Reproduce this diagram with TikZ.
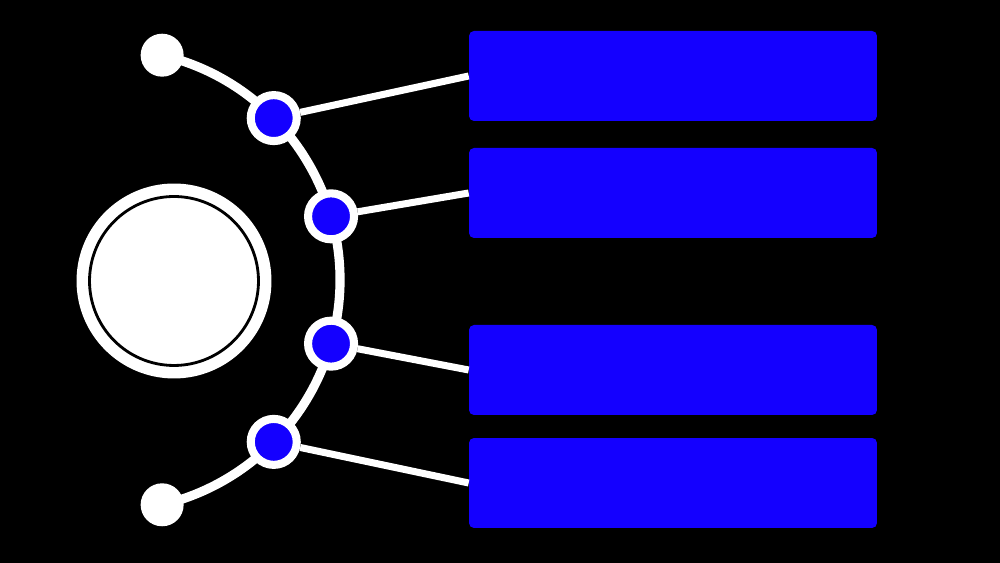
\documentclass[tikz,border=0pt]{standalone}
\usetikzlibrary{calc}
\definecolor{boxblue}{RGB}{20,0,255}
\begin{document}
\begin{tikzpicture}[x=0.02cm,y=0.02cm,
  dot/.style={circle,fill=boxblue,draw=white,line width=4.6pt,minimum size=0.92cm,inner sep=0pt},
  tip/.style={circle,fill=white,minimum size=0.86cm,inner sep=0pt},
  infobox/.style={rectangle,rounded corners=2.8pt,fill=boxblue,minimum width=8.16cm,minimum height=1.8cm,inner sep=0pt},
  link/.style={white,line width=4pt}]
\fill[black] (0,0) rectangle (1000,563);
\useasboundingbox (0,0) rectangle (1000,563);
\coordinate (k) at (109,283);
% arc
\draw[white,line width=5.2pt] ($(k)+(76.7:231)$) arc[start angle=76.7,end angle=-76.7,radius=231];
% end points
\node[tip] (e1) at ($(k)+(76.7:231)$) {};
\node[tip] (e2) at ($(k)+(-76.7:231)$) {};
% big circle
\node[circle,fill=white,minimum size=3.9cm,inner sep=0pt] (big) at (174,282) {};
\node[circle,draw=black,line width=1.6pt,minimum size=3.38cm,inner sep=0pt] (bigin) at (big.center) {};
% boxes
\node[infobox] (b1) at (673,487) {};
\node[infobox] (b2) at (673,370) {};
\node[infobox] (b3) at (673,193) {};
\node[infobox] (b4) at (673,80) {};
% dots
\node[dot] (d1) at ($(k)+(44.5:231)$) {};
\node[dot] (d2) at ($(k)+(16:231)$) {};
\node[dot] (d3) at ($(k)+(-16:231)$) {};
\node[dot] (d4) at ($(k)+(-44.5:231)$) {};
% links
\draw[link] (d1) -- (b1.west);
\draw[link] (d2) -- (b2.west);
\draw[link] (d3) -- (b3.west);
\draw[link] (d4) -- (b4.west);
\end{tikzpicture}
\end{document}
